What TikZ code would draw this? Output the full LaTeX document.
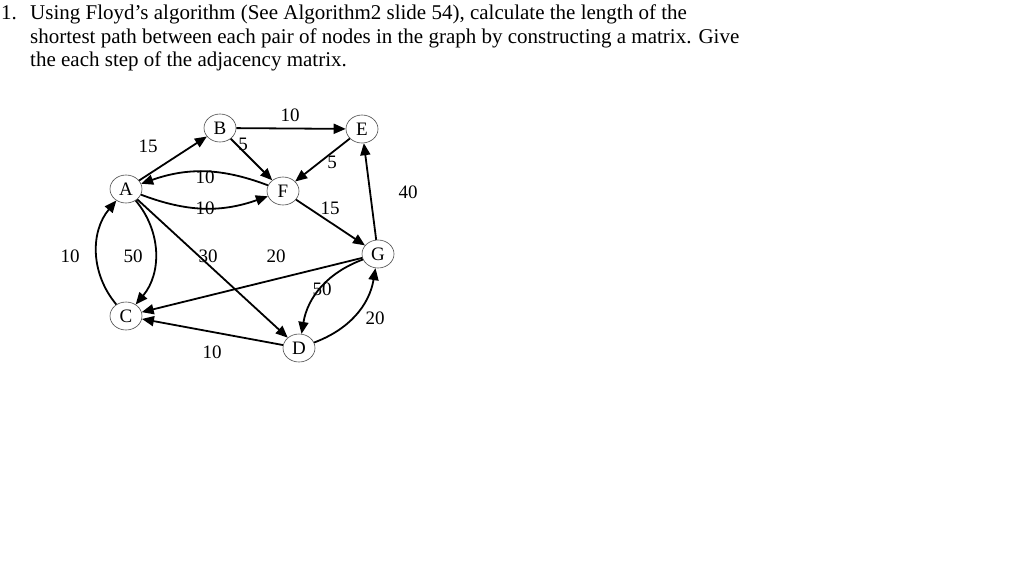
\documentclass[tikz,border=0pt]{standalone}
\usepackage{fontspec}
\setmainfont{Liberation Serif}
\usetikzlibrary{arrows.meta,shapes.geometric}
\begin{document}
\begin{tikzpicture}[x=1pt,y=-1pt,
  vtx/.style={draw=black!70,line width=0.6pt,ellipse,minimum width=32pt,minimum height=28pt,inner sep=0pt,font=\fontsize{19}{19}\selectfont},
  edge/.style={line width=1.8pt,-{Triangle[length=12pt,width=10pt]}},
  lbl/.style={font=\fontsize{19}{19}\selectfont,inner sep=0pt},
  ttl/.style={anchor=base west,inner sep=0pt,font=\fontsize{21}{21}\selectfont}]
\useasboundingbox (0,0) rectangle (1024,576);
\fill[white] (0,0) rectangle (1024,576);
\node[ttl] (n1) at (1,19) {1.};
\node[ttl] (t1) at (30,19) {Using Floyd’s algorithm (See Algorithm2 slide 54), calculate the length of the};
\node[ttl] (t2) at (30,43) {shortest path between each pair of nodes in the graph by constructing a matrix. Give};
\node[ttl] (t3) at (30,66) {the each step of the adjacency matrix.};

\node[vtx] (B) at (220,128) {B};
\node[vtx] (E) at (362,129) {E};
\node[vtx] (A) at (126,189) {A};
\node[vtx] (F) at (283,191) {F};
\node[vtx] (G) at (378,254) {G};
\node[vtx] (C) at (126,316) {C};
\node[vtx] (D) at (299,348) {D};

\draw[edge] (A) -- (B);
\draw[edge] (B) -- (E);
\draw[edge] (B) -- (F);
\draw[edge] (E) -- (F);
\draw[edge] (F) to[bend right=20] (A);
\draw[edge] (A) to[bend right=20] (F);
\draw[edge] (G) -- (E);
\draw[edge] (F) -- (G);
\draw[edge] (A) -- (D);
\draw[edge] (G) -- (C);
\draw[edge] (C) to[bend left=40] (A);
\draw[edge] (A) to[bend left=40] (C);
\draw[edge] (D) -- (C);
\draw[edge] (G) to[bend right=30] (D);
\draw[edge] (D) to[bend right=30] (G);

\node[lbl] (l1) at (148,146) {15};
\node[lbl] (l2) at (290,115) {10};
\node[lbl] (l3) at (243,144) {5};
\node[lbl] (l4) at (332,162) {5};
\node[lbl] (l5) at (205,177) {10};
\node[lbl] (l6) at (205,208) {10};
\node[lbl] (l7) at (408,192) {40};
\node[lbl] (l8) at (330,208) {15};
\node[lbl] (l9) at (208,256) {30};
\node[lbl] (l10) at (276,256) {20};
\node[lbl] (l11) at (70,256) {10};
\node[lbl] (l12) at (133,256) {50};
\node[lbl] (l13) at (212,352) {10};
\node[lbl] (l14) at (322,289) {50};
\node[lbl] (l15) at (375,318) {20};
\end{tikzpicture}
\end{document}
